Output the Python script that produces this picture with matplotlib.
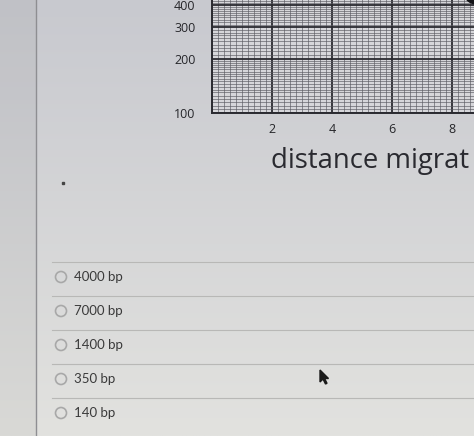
import numpy as np
import matplotlib.pyplot as plt
from matplotlib.ticker import FixedLocator, NullFormatter
from matplotlib.patches import Circle, Polygon

# data
y_ticks = [100, 200, 300, 400]
x_ticks = [2, 4, 6, 8]
y_minor = list(range(105, 200, 5)) + list(range(210, 500, 10))
x_minor = [round(v * 0.2, 1) for v in range(0, 46)]
point_x = [8.75]
point_y = [470]
options = ["4000 bp", "7000 bp", "1400 bp", "350 bp", "140 bp"]
xlabel = "distance migrat"

W, H = 474, 436
fig = plt.figure(figsize=(W / 100, H / 100), dpi=100)

# background with a soft vertical gradient (photo of a screen)
bg = fig.add_axes([0, 0, 1, 1], zorder=-10)
grad = np.linspace(0, 1, 200)[:, None]
top = np.array([200, 201, 207]) / 255
bot = np.array([226, 226, 223]) / 255
img = top + (bot - top) * grad[..., None]
img = np.repeat(img, 2, axis=1)
bg.imshow(img, aspect="auto", extent=[0, W, H, 0])
bg.set_xlim(0, W)
bg.set_ylim(H, 0)
bg.axis("off")

# left side strip and border
bg.add_patch(plt.Rectangle((0, 0), 36, H, color="#000000", alpha=0.04, lw=0))
bg.plot([36, 36], [0, H], color="#8e8e92", lw=1)

# graph paper axes
x0, yb = 212, 113
decade = 180
ax = fig.add_axes([x0 / W, (H - yb) / H, 270 / W, decade * np.log10(5) / H])
ax.set_facecolor("#d6d6da")
ax.set_yscale("log")
ax.set_xlim(0, 9)
ax.set_ylim(100, 500)
ax.yaxis.set_major_locator(FixedLocator(y_ticks))
ax.yaxis.set_minor_locator(FixedLocator(y_minor))
ax.yaxis.set_minor_formatter(NullFormatter())
ax.set_yticklabels([str(v) for v in y_ticks])
ax.xaxis.set_major_locator(FixedLocator(x_ticks))
ax.xaxis.set_minor_locator(FixedLocator(x_minor))
ax.grid(which="minor", color="#5a5a62", lw=0.45)
ax.grid(which="major", color="#2a2a30", lw=1.3)
ax.tick_params(which="both", length=0)
ax.tick_params(axis="y", pad=12, labelsize=9, labelcolor="#26262a")
ax.tick_params(axis="x", pad=7, labelsize=9, labelcolor="#26262a")
for lbl in ax.get_xticklabels() + ax.get_yticklabels():
    lbl.set_fontfamily("Open Sans")
for s in ["top", "right"]:
    ax.spines[s].set_visible(False)
for s in ["left", "bottom"]:
    ax.spines[s].set_color("#2a2a30")
    ax.spines[s].set_linewidth(1.4)
ax.set_axisbelow(True)
ax.scatter(point_x, point_y, s=260, color="#141418", zorder=5, clip_on=False)

# axis title (cut off by the screen edge in the photo)
bg.text(271, 168, xlabel, fontsize=19.8, family="Open Sans",
        color="#2a2a30", ha="left", va="baseline")

# stray dot on the page
bg.plot([63], [183], "s", ms=1.5, color="#444")

# multiple choice answers
row0, step = 262, 34
for i, txt in enumerate(options):
    ly = row0 + i * step
    bg.plot([52, W], [ly, ly], color="#b8b8b6", lw=0.8)
    cy = ly + 15
    bg.add_patch(Circle((61, cy), 5.5, fill=False, ec="#a8a8a8", lw=1.2))
    bg.text(74, cy, txt, fontsize=9.5, family="Lato", color="#3a3a3a",
            va="center", ha="left")

# mouse cursor
cx, cy = 320, 370
cur = [(cx, cy), (cx, cy + 12), (cx + 3, cy + 9), (cx + 5.5, cy + 14),
       (cx + 7, cy + 13.3), (cx + 4.6, cy + 8.5), (cx + 8.5, cy + 8.5)]
bg.add_patch(Polygon(cur, closed=True, color="#1a1a1a"))

fig.savefig("out.png", dpi=100)
